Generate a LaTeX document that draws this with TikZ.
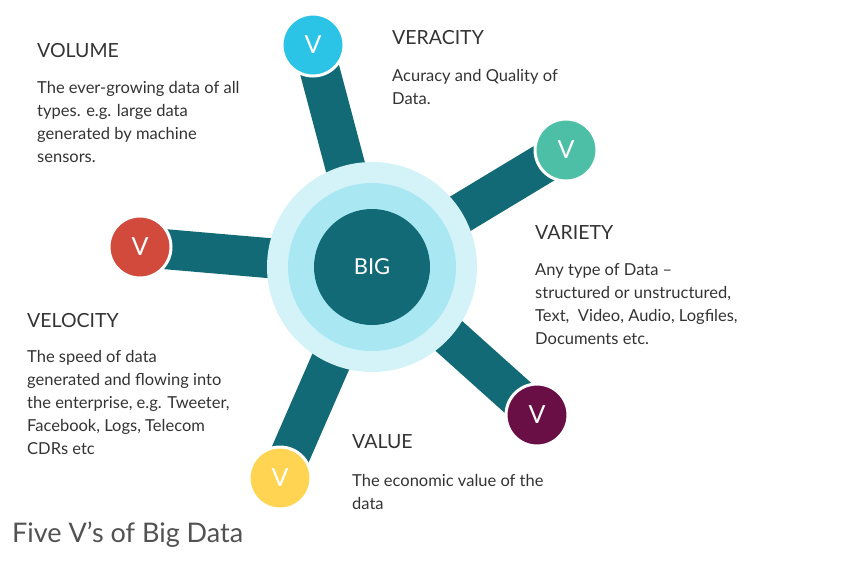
\documentclass[tikz,border=0pt]{standalone}
\usepackage{fontspec}
\setmainfont{Lato}
\definecolor{spoke}{HTML}{136A77}
\definecolor{ringout}{HTML}{D4F3F8}
\definecolor{ringmid}{HTML}{A9E8F3}
\definecolor{vcyan}{HTML}{2BC4E6}
\definecolor{vgreen}{HTML}{4DBFA6}
\definecolor{vred}{HTML}{D14A3C}
\definecolor{vyellow}{HTML}{FFD452}
\definecolor{vpurple}{HTML}{6A0E46}
\definecolor{txt}{HTML}{333333}
\tikzset{
  vdot/.style={circle, draw=white, line width=3pt, minimum size=62pt, inner sep=0pt,
    text=white, font=\fontsize{25}{25}\selectfont},
  head/.style={anchor=base west, inner sep=0pt, text=txt, font=\fontsize{19.5}{19.5}\selectfont},
  body/.style={anchor=north west, inner sep=0pt, text=txt, align=left,
    font=\fontsize{16.5}{23}\selectfont}
}
\begin{document}
\begin{tikzpicture}[x=1pt, y=-1pt]
  \useasboundingbox (0,0) rectangle (850,566);
  \coordinate (hub) at (372,267);
  \coordinate (vera) at (313,45);
  \coordinate (vari) at (566,150);
  \coordinate (velo) at (140,247);
  \coordinate (valu) at (280,478);
  \coordinate (volu) at (537,415);
  % spokes
  \foreach \v in {vera, vari, velo, valu, volu}
    \draw[spoke, line width=40pt] (hub) -- (\v);
  \fill[ringout] (hub) circle (105);
  \fill[ringmid] (hub) circle (84);
  \node[circle, fill=spoke, minimum size=116pt, inner sep=0pt, text=white,
    font=\fontsize{22}{22}\selectfont] (big) at (hub) {BIG};
  % dots on top of spokes
  \node[vdot, fill=vcyan] (dvera) at (vera) {V};
  \node[vdot, fill=vgreen] (dvari) at (vari) {V};
  \node[vdot, fill=vred] (dvelo) at (velo) {V};
  \node[vdot, fill=vyellow] (dvalu) at (valu) {V};
  \node[vdot, fill=vpurple] (dvolu) at (volu) {V};
  % texts
  \node[head] (hvolume) at (37,57) {VOLUME};
  \node[body] (bvolume) at (37,81) {The ever-growing data of all\\types. e.g. large data\\generated by machine\\sensors.};
  \node[head] (hveracity) at (392,44) {VERACITY};
  \node[body] (bveracity) at (392,69) {Acuracy and Quality of\\Data.};
  \node[head] (hvariety) at (535,239) {VARIETY};
  \node[body] (bvariety) at (535,263) {Any type of Data --\\structured or unstructured,\\Text,\ \ Video, Audio, Logfiles,\\Documents etc.};
  \node[head] (hvelocity) at (27,327) {VELOCITY};
  \node[body] (bvelocity) at (27,350) {The speed of data\\generated and flowing into\\the enterprise, e.g. Tweeter,\\Facebook, Logs, Telecom\\CDRs etc};
  \node[head] (hvalue) at (352,448) {VALUE};
  \node[body] (bvalue) at (352,474) {The economic value of the\\data};
  \node[anchor=base west, inner sep=0pt, text=txt!85, font=\fontsize{27}{27}\selectfont]
    (title) at (12,542) {Five V’s of Big Data};
\end{tikzpicture}
\end{document}
